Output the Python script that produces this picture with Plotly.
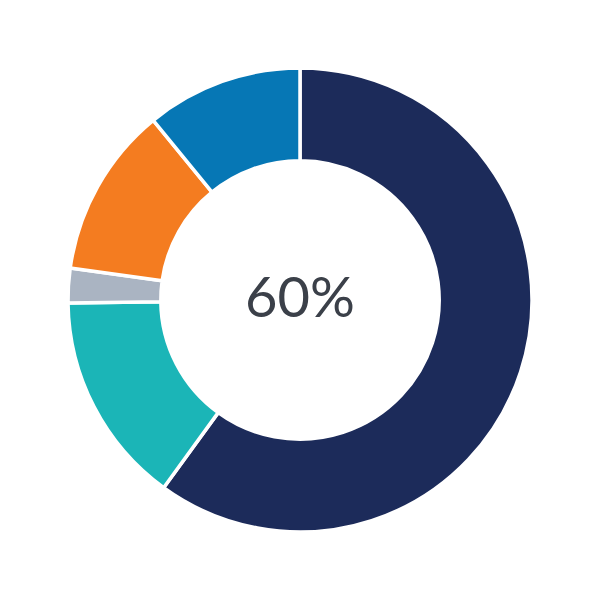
import plotly.graph_objects as go

labels = ["Navy", "Teal", "Gray", "Orange", "Blue"]
values = [60, 14.8, 2.4, 11.9, 10.9]
colors = ["#1c2b5a", "#1bb5b7", "#aab4c2", "#f47c20", "#0677b5"]
center_text = "60%"

fig = go.Figure()
fig.add_trace(go.Pie(
    labels=labels,
    values=values,
    hole=0.6,
    sort=False,
    direction="clockwise",
    rotation=0,
    marker=dict(colors=colors, line=dict(color="white", width=3.5)),
    textinfo="none",
    hoverinfo="label+percent",
    showlegend=False,
))

fig.add_annotation(
    text=center_text, x=0.5, y=0.5, xref="paper", yref="paper",
    showarrow=False, yshift=5,
    font=dict(family="Lato", size=56, color="#3b4049", weight=400),
)

# page has an 8px body offset, so shift the plot up/left
fig.update_layout(
    width=600, height=600,
    margin=dict(l=60, r=76, t=60, b=76),
    paper_bgcolor="white",
    plot_bgcolor="white",
)

fig.write_html("out.html")
